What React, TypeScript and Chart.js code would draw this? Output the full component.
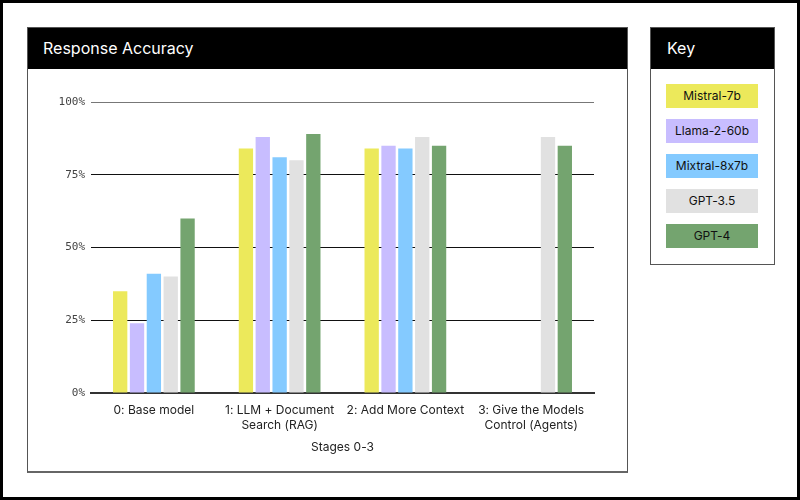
import { useEffect, useRef } from "react";
import { Chart, registerables } from "chart.js";

Chart.register(...registerables);

const stages = [
  "0: Base model",
  ["1: LLM + Document", "Search (RAG)"],
  "2: Add More Context",
  ["3: Give the Models", "Control (Agents)"]
];
const models = ["Mistral-7b", "Llama-2-60b", "Mixtral-8x7b", "GPT-3.5", "GPT-4"];
const mistral = [35, 84, 84, null];
const llama = [24, 88, 85, null];
const mixtral = [41, 81, 84, null];
const gpt35 = [40, 80, 88, 88];
const gpt4 = [60, 89, 85, 85];
const yTicks = [0, 25, 50, 75, 100];

const colors = ["#ece95b", "#c8bdff", "#84caff", "#e1e1e1", "#74a46f"];
const sans = "Inter, 'Noto Sans', sans-serif";

const App = () => {
  const canvasRef = useRef<HTMLCanvasElement | null>(null);
  const chartRef = useRef<Chart | null>(null);

  useEffect(() => {
    if (!canvasRef.current) return;
    const ctx = canvasRef.current.getContext("2d");
    if (!ctx) return;

    const series = [mistral, llama, mixtral, gpt35, gpt4];

    chartRef.current = new Chart(ctx, {
      type: "bar",
      data: {
        labels: stages,
        datasets: series.map((data, i) => ({
          label: models[i],
          data,
          backgroundColor: colors[i],
          borderWidth: 0,
          barPercentage: 0.85,
          categoryPercentage: 0.67
        }))
      },
      options: {
        animation: false,
        responsive: true,
        maintainAspectRatio: false,
        layout: {
          padding: { top: 33, right: 33, bottom: 16, left: 0 }
        },
        plugins: {
          legend: { display: false },
          tooltip: { enabled: false }
        },
        scales: {
          x: {
            grid: { display: false },
            border: { color: "#333", width: 2 },
            ticks: {
              color: "#222",
              padding: 2,
              maxRotation: 0,
              autoSkip: false,
              font: { family: sans, size: 12, lineHeight: 1.25 }
            },
            title: {
              display: true,
              text: "Stages 0-3",
              color: "#222",
              padding: 0,
              font: { family: sans, size: 12, lineHeight: 1.2 }
            },
            afterFit: (scale) => {
              scale.height = 62;
            }
          },
          y: {
            min: 0,
            max: 100,
            border: { display: false },
            grid: {
              drawTicks: false,
              lineWidth: 1,
              color: (c) => (c.tick && c.tick.value === 100 ? "#777" : "#111")
            },
            afterBuildTicks: (scale) => {
              scale.ticks = yTicks.map((v) => ({ value: v }));
            },
            ticks: {
              color: "#444",
              padding: 6,
              font: { family: "'DejaVu Sans Mono', monospace", size: 11 },
              callback: (v) => v + "%"
            },
            afterFit: (scale) => {
              scale.width = 63;
            }
          }
        }
      }
    });

    return () => {
      chartRef.current?.destroy();
    };
  }, []);

  return (
    <div
      style={{
        position: "fixed",
        inset: 0,
        background: "#fff",
        fontFamily: sans,
        fontFeatureSettings: '"calt" 0'
      }}
    >
      <div
        style={{
          position: "fixed",
          inset: 0,
          border: "3px solid #000",
          boxSizing: "border-box"
        }}
      />
      <div
        style={{
          position: "fixed",
          left: 27,
          top: 27,
          width: 601,
          height: 446,
          border: "1px solid #555",
          borderBottom: "2px solid #666",
          boxSizing: "border-box",
          background: "#fff"
        }}
      >
        <div
          style={{
            height: 41,
            background: "#000",
            color: "#fff",
            fontSize: 16,
            lineHeight: "41px",
            paddingLeft: 15
          }}
        >
          Response Accuracy
        </div>
        <div style={{ position: "relative", height: 402 }}>
          <canvas ref={canvasRef} />
        </div>
      </div>
      <div
        style={{
          position: "fixed",
          left: 650,
          top: 27,
          width: 125,
          height: 238,
          border: "1px solid #555",
          boxSizing: "border-box",
          background: "#fff"
        }}
      >
        <div
          style={{
            height: 41,
            background: "#000",
            color: "#fff",
            fontSize: 16,
            lineHeight: "41px",
            paddingLeft: 16
          }}
        >
          Key
        </div>
        {models.map((m, i) => (
          <div
            key={m}
            style={{
              marginLeft: 15,
              marginTop: i === 0 ? 15 : 11,
              width: 92,
              height: 24,
              background: colors[i],
              color: "#111",
              fontSize: 12,
              lineHeight: "24px",
              textAlign: "center"
            }}
          >
            {m}
          </div>
        ))}
      </div>
    </div>
  );
};

export default App;
